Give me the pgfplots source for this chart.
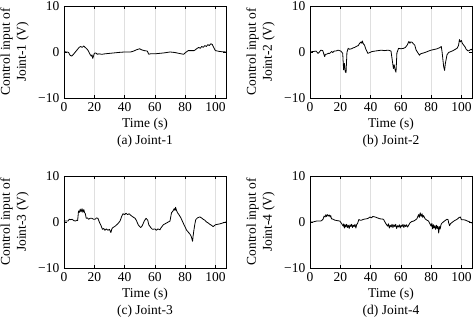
\documentclass[border=0pt]{standalone}
\usepackage{fontspec}
\setmainfont{Liberation Serif}
\usepackage{pgfplots}
\pgfplotsset{compat=1.18}
\pgfplotsset{
  panel/.style={
    scale only axis, width=162pt, height=92pt,
    xmin=0, xmax=107, ymin=-10, ymax=10,
    xtick={0,20,40,60,80,100}, xticklabels={0,20,40,60,80,100},
    ytick={-10,0,10}, yticklabels={−10,0,10},
    xmajorgrids, major grid style={gray!25, line width=0.5pt},
    tick align=inside, major tick length=3pt,
    tick style={black, line width=0.5pt},
    axis line style={black, line width=0.8pt},
    every tick label/.append style={font=\fontsize{13.5}{15}\selectfont},
    anchor=south west, clip mode=individual,
  },
  sig/.style={black, line width=0.8pt, line join=round, mark=none},
}
\begin{document}
\fontsize{13.5}{16}\selectfont
\begin{tikzpicture}
\useasboundingbox (0,0) rectangle (474pt,323pt);
% (a) Joint-1
\begin{axis}[panel, at={(64pt,225pt)}]
\addplot[sig] coordinates {
(0,0.05) (2,0.0) (3,-0.1) (4,-0.7) (5,-0.9) (6,-0.6) (7,-0.2) (8,0.2) (9,0.6)
(10,1.0) (11,1.2) (12,1.0) (13,1.3) (14,1.0) (15,0.7) (16,0.3) (17,-0.4)
(18,-0.9) (18.5,-0.6) (19,-1.4) (19.5,-0.9) (20,-0.3) (21,-0.2) (22,-0.5)
(23,-0.4) (25,-0.5) (27,-0.4) (30,-0.3) (33,-0.2) (36,-0.1) (40,0.0) (44,0.0)
(46,0.2) (48,0.5) (50,0.7) (51,0.5) (53,0.3) (55,0.2) (56,-0.5) (57,-0.4)
(60,-0.4) (63,-0.3) (66,-0.2) (70,0.0) (73,-0.1) (76,-0.3) (79,-0.5) (80,-0.2)
(82,0.3) (84,0.3) (86,0.3) (88,0.8) (89,1.0) (90,0.8) (91,1.2) (92,1.0)
(93,1.4) (94,1.2) (95,1.6) (96,1.4) (97,1.8) (98,1.6) (99,0.9) (100,0.3)
(103,0.1) (107,0.0)
};
\node[rotate=90, align=center] at (axis description cs:-0.305,0.5) {Control input of\\Joint-1 (V)};
\node at (axis description cs:0.5,-0.28) {Time (s)};
\node at (axis description cs:0.5,-0.475) {(a) Joint-1};
\end{axis}
% (b) Joint-2
\begin{axis}[panel, at={(310pt,225pt)}]
\addplot[sig] coordinates {
(0,0.0) (2,0.1) (4,0.2) (5.3,-0.3) (6,-0.1) (7.1,0.4) (8.4,0.3) (9.7,-1.0)
(10.2,-0.5) (10.8,-0.5) (12,-0.3) (13,-0.3) (14.3,0.1) (15,-0.1) (16,0.2)
(17,0.2) (18.6,0.4) (19.5,0.3) (20.4,0.2) (21.6,-0.3) (22.2,-3.9) (22.7,-2.5)
(23.3,-4.3) (23.8,-4.5) (24.4,-0.1) (25.2,0.8) (26,0.6) (27.4,0.7) (28.5,0.9)
(29.6,1.0) (30.5,1.2) (31.9,1.4) (32.6,1.8) (33.7,2.2) (34.2,1.9) (34.6,2.4)
(35.2,1.8) (36,1.5) (36.9,0.6) (37.5,0.2) (38.2,-0.3) (39.6,-0.1) (41,0.1)
(43,0.2) (45,0.3) (47.3,0.4) (49,0.3) (51.8,0.4) (53.5,0.2) (55.1,-3.6)
(55.6,-2.8) (56.3,-4.0) (56.8,-4.4) (57.4,-0.2) (58.5,0.8) (60,0.7) (61.9,0.8)
(63,1.0) (64.2,1.5) (65.3,2.3) (66,1.9) (66.6,2.2) (67.5,2.1) (68.2,1.8)
(69.2,1.5) (70,0.5) (70.7,0.1) (72.3,-0.7) (73,-0.4) (74,-0.3) (76,-0.1)
(78.3,0.2) (80,0.4) (82.7,0.6) (84,0.7) (86,1.0) (86.7,1.2) (87.2,0.1)
(88.3,-3.2) (88.9,-4.0) (89.4,-2.5) (90.5,-0.6) (91.6,-0.1) (93.8,0.2)
(95,0.4) (97.1,0.8) (98.1,1.4) (98.7,2.7) (99.3,2.2) (100,2.5) (100.6,1.9)
(101.5,1.5) (102.6,1.0) (103.1,0.6) (104.5,0.2) (105,0.3) (106.5,0.6) (107,0.4)
};
\node[rotate=90, align=center] at (axis description cs:-0.305,0.5) {Control input of\\Joint-2 (V)};
\node at (axis description cs:0.5,-0.28) {Time (s)};
\node at (axis description cs:0.5,-0.475) {(b) Joint-2};
\end{axis}
% (c) Joint-3
\begin{axis}[panel, at={(64pt,55pt)}]
\addplot[sig] coordinates {
(0,0.2) (2,0.2) (2.6,0.2) (3.5,0.6) (4.5,0.5) (5.3,0.6) (6.5,0.3) (7.5,0.2)
(8.5,0.4) (9.0,0.3) (9.6,2.4) (10.2,2.1) (10.7,2.8) (11.3,2.2) (11.9,2.9)
(12.5,2.1) (13.1,2.7) (13.6,2.0) (14.0,1.9) (14.7,0.8) (15.5,0.9) (16.2,0.6)
(17.3,0.8) (18.4,0.8) (19.5,0.6) (20.6,0.6) (21.5,0.9) (22.4,0.8) (23.2,0.1)
(24.6,-0.9) (25.4,-1.6) (26.2,-1.4) (27,-1.8) (28,-1.5) (29,-1.8) (30,-1.6)
(31,-2.3) (31.5,-1.6) (32,-1.3) (33.8,-0.9) (35.5,-0.4) (37,0.2) (38.2,1.3)
(39,1.8) (40,1.6) (41,1.9) (42,1.6) (43,1.8) (43.6,1.6) (44.7,1.3) (46,1.0)
(47,0.8) (48,0.2) (49,-0.6) (50,-1.0) (50.7,-1.2) (51.7,-0.8) (53,0.2)
(54.2,0.8) (55.3,0.4) (56,-0.6) (57.5,-1.3) (58.5,-1.6) (60,-1.5) (61,-1.8)
(62,-1.5) (63.4,-1.7) (64,-1.3) (65.6,-0.6) (67.8,-0.2) (70,0.2) (71,2.0)
(72,2.4) (72.8,2.9) (73.3,2.5) (73.7,3.2) (74.2,2.6) (75,2.0) (75.9,1.6)
(77.2,0.9) (78.7,-0.2) (80.3,-1.3) (81,-1.8) (81.6,-2.0) (82.3,-2.3)
(83.1,-2.6) (83.7,-2.9) (84.2,-3.3) (84.9,-4.2) (85.3,-3.0) (85.7,-2.0)
(86.4,-0.5) (87,0.5) (88.2,0.9) (89.7,1.1) (90.8,0.9) (91.9,0.6) (93,0.4)
(94.1,0.0) (95.2,-0.2) (96.3,-0.5) (97.4,-0.7) (98.5,-1.0) (99.3,-0.8)
(100,-0.6) (103,-0.4) (105,-0.2) (107,0.0)
};
\node[rotate=90, align=center] at (axis description cs:-0.305,0.5) {Control input of\\Joint-3 (V)};
\node at (axis description cs:0.5,-0.28) {Time (s)};
\node at (axis description cs:0.5,-0.475) {(c) Joint-3};
\end{axis}
% (d) Joint-4
\begin{axis}[panel, at={(310pt,55pt)}]
\addplot[sig] coordinates {
(0,0.0) (2,0.0) (3,0.1) (4.2,0.2) (5.5,0.2) (7.1,0.2) (8,0.4) (8.6,0.6)
(9.3,1.3) (10,1.1) (10.5,1.6) (11,1.2) (11.6,1.6) (12.2,1.3) (12.8,1.5)
(13.3,1.1) (13.7,1.4) (14.2,0.7) (15.3,0.6) (16.4,0.4) (18,0.3) (19.7,0.2)
(20.8,-0.3) (21.9,-0.9) (22.3,-0.4) (22.7,-1.3) (23.2,-0.6) (23.7,-1.1)
(24.2,-0.5) (24.8,-1.2) (25.3,-0.7) (25.9,-1.4) (26.4,-0.6) (27,-1.0)
(27.5,-0.5) (28.1,-1.2) (28.6,-0.7) (29.2,-1.0) (29.7,-0.5) (30.3,-1.3)
(30.8,-0.6) (31.4,-0.3) (32.3,0.55) (33,0.4) (34,0.4) (35.5,0.6) (37.4,0.7)
(38.5,0.8) (39.6,1.1) (40.5,0.9) (41.5,1.2) (43,1.1) (44.5,0.9) (46.2,0.7)
(48.5,0.6) (50,-0.3) (50.6,-0.6) (51.3,-0.9) (51.8,-0.4) (52.4,-1.3)
(53,-0.7) (53.6,-1.1) (54.2,-0.5) (54.8,-1.2) (55.4,-0.6) (56,-1.0)
(56.6,-0.5) (57.2,-1.4) (57.8,-0.8) (58.4,-1.1) (59,-0.6) (59.6,-1.3)
(60.2,-0.7) (60.8,-1.0) (61.4,-0.5) (62,-1.2) (62.6,-0.6) (63.2,-1.0)
(63.8,-0.6) (64.4,-1.1) (65,-0.8) (66,-0.2) (67.2,0.1) (68.4,0.2) (69.5,0.4)
(70.6,0.7) (71.7,1.6) (72.2,1.0) (72.8,2.0) (73.4,1.2) (74,1.8) (74.5,1.0)
(75,1.4) (76,0.7) (77.2,0.4) (78.3,0.2) (79.4,-0.5) (80.0,-0.9) (80.5,-0.3)
(81,-1.5) (81.5,-0.6) (82,-1.3) (82.5,-0.8) (83,-1.6) (83.5,-0.7) (84,-1.4)
(84.5,-0.9) (85,-2.4) (85.5,-1.0) (86,-1.5) (86.5,-0.6) (87,-0.3) (88,0.0)
(89.2,0.3) (90.5,0.6) (91.2,0.5) (91.6,-0.2) (92.2,-0.8) (92.7,-0.4)
(93.8,-0.1) (95,0.2) (96,0.4) (97.2,0.6) (98.2,0.9) (99.3,1.1) (100,0.5)
(101.3,0.5) (102.7,0.4) (104,0.2) (105,0.1) (106,-0.1) (107,-0.2)
};
\node[rotate=90, align=center] at (axis description cs:-0.305,0.5) {Control input of\\Joint-4 (V)};
\node at (axis description cs:0.5,-0.28) {Time (s)};
\node at (axis description cs:0.5,-0.475) {(d) Joint-4};
\end{axis}
\end{tikzpicture}
\end{document}
